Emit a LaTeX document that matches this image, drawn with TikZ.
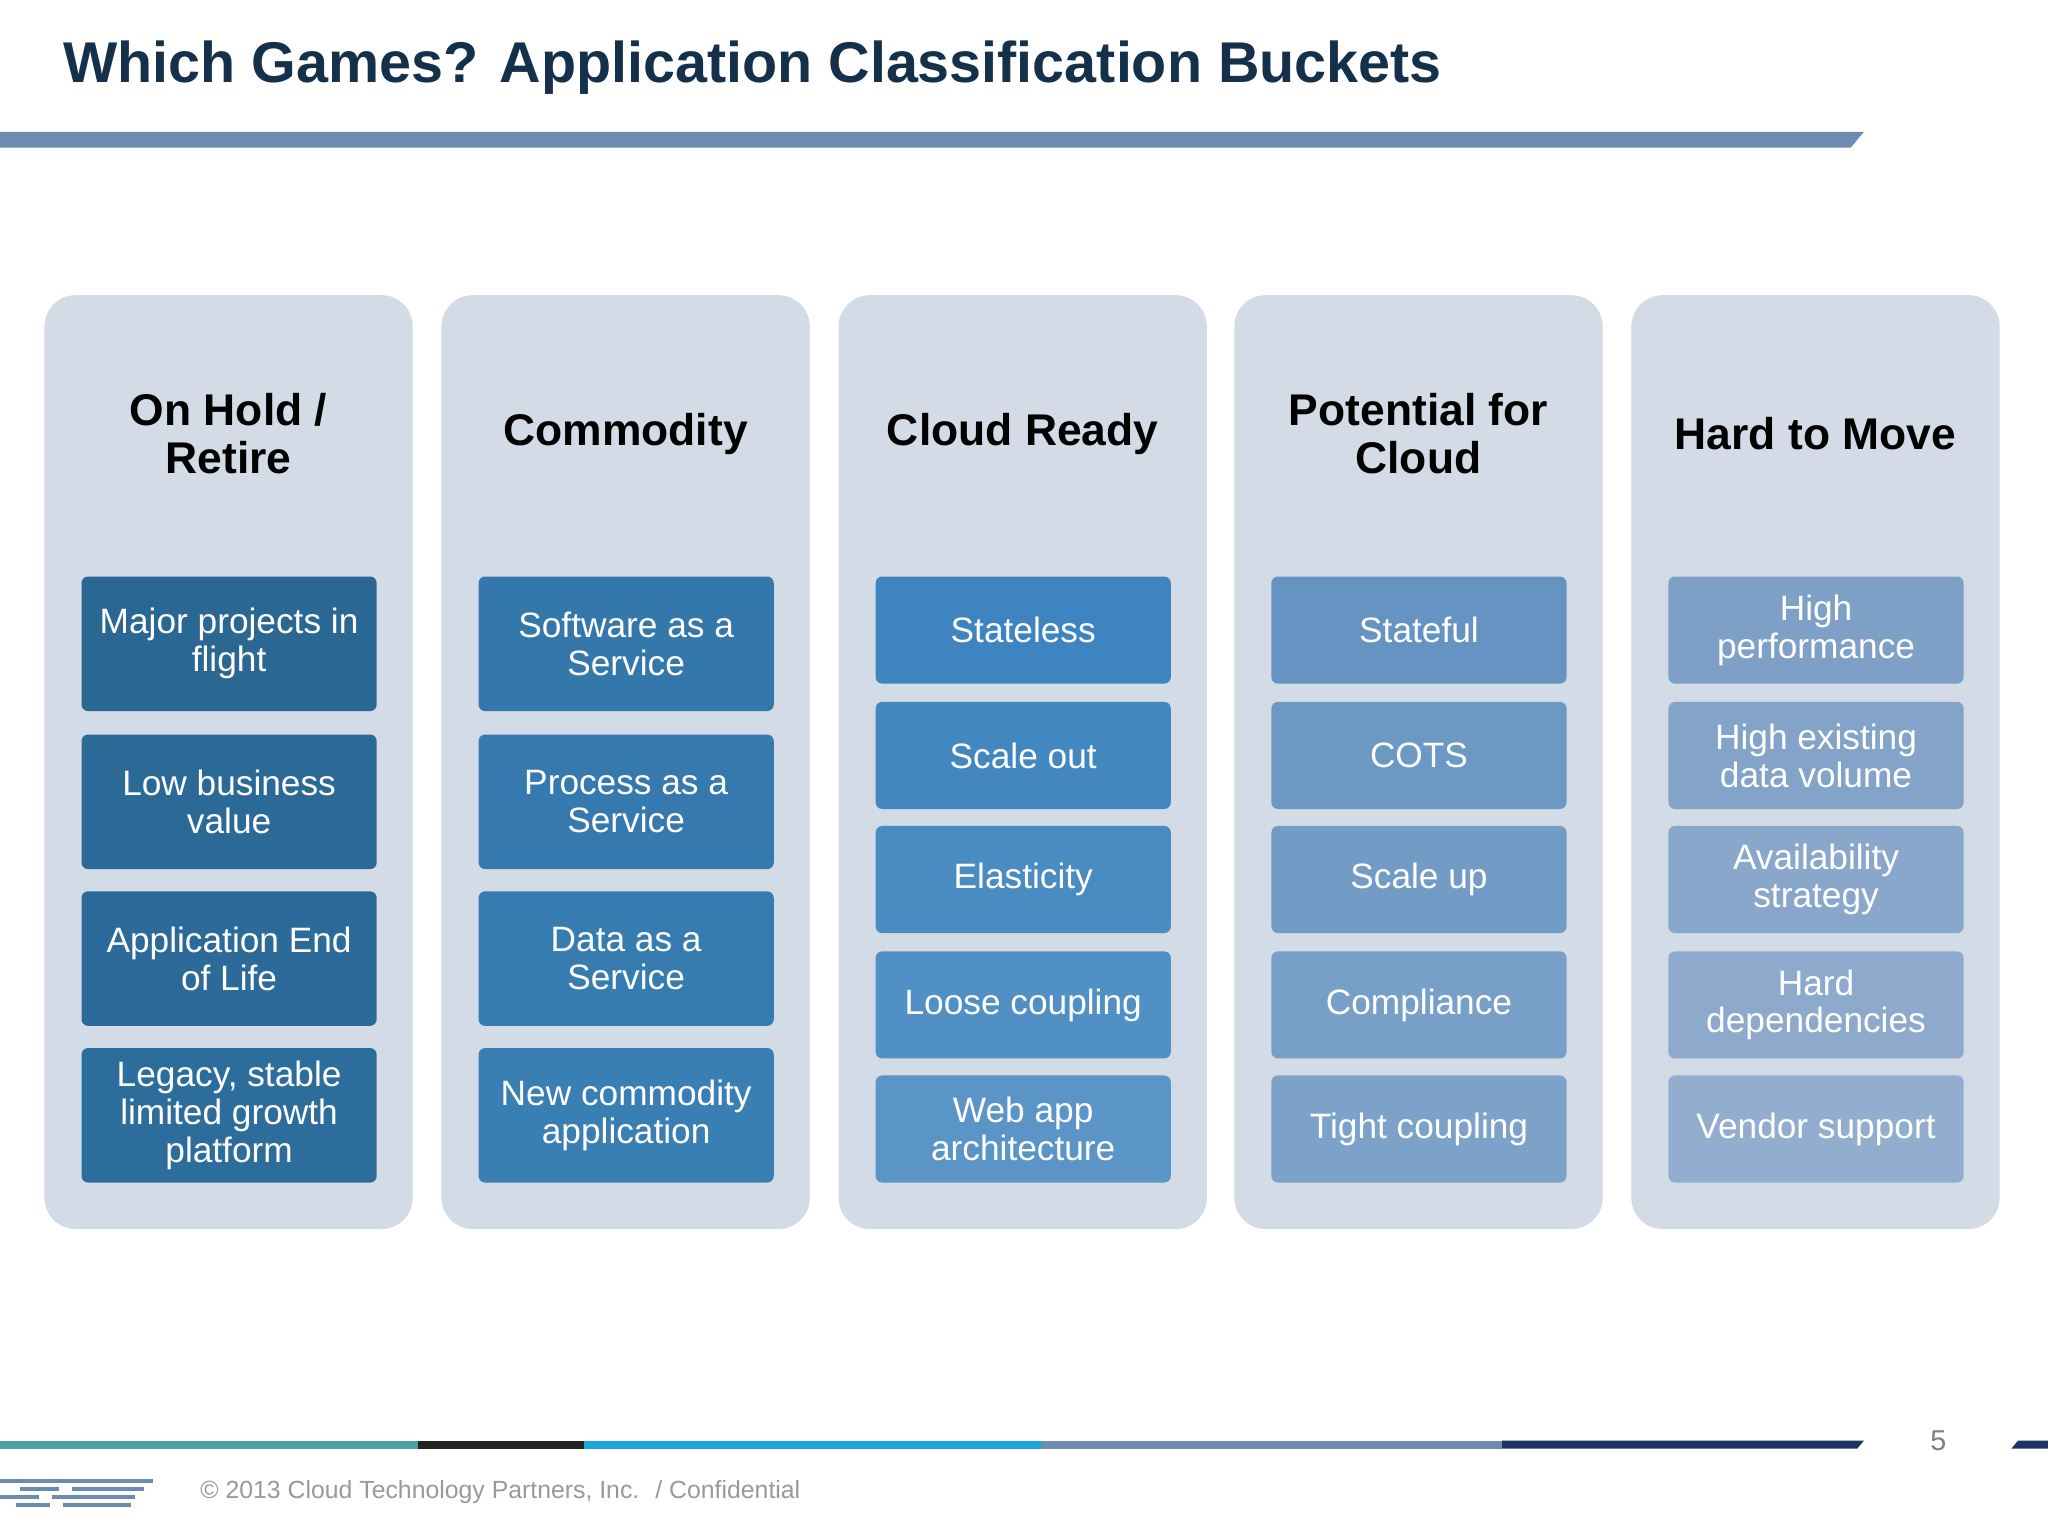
\documentclass[tikz,border=0pt]{standalone}
\usepackage{fontspec}
\setmainfont{Liberation Sans}
\begin{document}
\begin{tikzpicture}[x=0.5pt,y=-0.5pt,
  panel/.style={fill=panelc,rounded corners=12pt,draw=none},
  hdr/.style={font=\bfseries\fontsize{17}{18}\selectfont,align=center,text=black},
  bx/.style={rounded corners=2.5pt,text=white,align=center,font=\fontsize{13.5}{14.5}\selectfont,inner sep=0pt},
  ]
\definecolor{panelc}{HTML}{D3DBE6}
\definecolor{titlec}{HTML}{14304A}
\definecolor{barc}{HTML}{6B8CAE}
\useasboundingbox (0,0) rectangle (1568,1176);
\fill[white] (0,0) rectangle (1568,1176);
\node[anchor=west,text=titlec,font=\bfseries\fontsize{22}{24}\selectfont,inner sep=0pt] (title) at (48,52) {Which Games? Application Classification Buckets};
\fill[barc] (0,101) -- (1427,101) -- (1417,113) -- (0,113) -- cycle;
% panels and headers
\foreach \x/\n/\t in {34/p1/{On Hold /\\Retire},338/p2/{Commodity},642/p3/{Cloud Ready},945/p4/{Potential for\\Cloud},1249/p5/{Hard to Move}}{
  \fill[panelc,rounded corners=12pt] (\x,226) rectangle ++(282,715);
  \node[hdr] (\n) at (\x+141,332) {\t};
}
% col1 and col2 boxes (4 rows)
\foreach \y/\c/\t/\n in {441/2A6893/{Major projects in\\flight}/a1,562/2B6996/{Low business\\value}/a2,682/2C6B99/{Application End\\of Life}/a3,802/2D6D9C/{Legacy, stable\\limited growth\\platform}/a4}{
  \definecolor{tmp}{HTML}{\c}
  \node[bx,fill=tmp,minimum width=113pt,minimum height=51.5pt,anchor=north west] (\n) at (62,\y) {\t};
}
\foreach \y/\c/\t/\n in {441/3477AB/{Software as a\\Service}/b1,562/3579AE/{Process as a\\Service}/b2,682/377CB1/{Data as a\\Service}/b3,802/397FB4/{New commodity\\application}/b4}{
  \definecolor{tmp}{HTML}{\c}
  \node[bx,fill=tmp,minimum width=113pt,minimum height=51.5pt,anchor=north west] (\n) at (366,\y) {\t};
}
% col3-5 (5 rows)
\foreach \y/\c/\t/\n in {441/3E84C0/{Stateless}/c1,537/4387C0/{Scale out}/c2,632/4A8BC2/{Elasticity}/c3,728/5090C5/{Loose coupling}/c4,823/5B95C8/{Web app\\architecture}/c5}{
  \definecolor{tmp}{HTML}{\c}
  \node[bx,fill=tmp,minimum width=113pt,minimum height=41pt,anchor=north west] (\n) at (670,\y) {\t};
}
\foreach \y/\c/\t/\n in {441/6594C2/{Stateful}/d1,537/6C98C4/{COTS}/d2,632/729CC6/{Scale up}/d3,728/779FC7/{Compliance}/d4,823/7CA2C9/{Tight coupling}/d5}{
  \definecolor{tmp}{HTML}{\c}
  \node[bx,fill=tmp,minimum width=113pt,minimum height=41pt,anchor=north west] (\n) at (973,\y) {\t};
}
\foreach \y/\c/\t/\n in {441/7E9FC6/{High\\performance}/e1,537/83A3C8/{High existing\\data volume}/e2,632/88A7CA/{Availability\\strategy}/e3,728/8DAACC/{Hard\\dependencies}/e4,823/92ADCD/{Vendor support}/e5}{
  \definecolor{tmp}{HTML}{\c}
  \node[bx,fill=tmp,minimum width=113pt,minimum height=41pt,anchor=north west] (\n) at (1277,\y) {\t};
}
% footer
\fill[fill={rgb,255:red,74;green,161;blue,168}] (0,1103) rectangle (322,1109);
\fill[fill={rgb,255:red,34;green,34;blue,34}] (320,1103) rectangle (447,1109);
\fill[fill={rgb,255:red,26;green,166;blue,216}] (447,1103) rectangle (797,1109);
\fill[barc] (797,1103) rectangle (1150,1109);
\fill[fill={rgb,255:red,28;green,53;blue,96}] (1150,1103) -- (1427,1103) -- (1422,1109) -- (1150,1109) -- cycle;
\fill[fill={rgb,255:red,28;green,53;blue,96}] (1545,1103) -- (1568,1103) -- (1568,1109) -- (1540,1109) -- cycle;
\node[text=gray,font=\fontsize{11}{12}\selectfont] (pg) at (1484,1103) {5};
\node[anchor=west,text=gray!80,font=\fontsize{9.5}{11}\selectfont,inner sep=0pt] (copy) at (153,1142) {\textcopyright\ 2013 Cloud Technology Partners, Inc.~ / Confidential};
\begin{scope}[line width=1.5pt,draw=barc]
\draw (0,1134) -- (117,1134);
\draw (15,1140) -- (45,1140) (55,1140) -- (110,1140);
\draw (0,1146) -- (30,1146) (40,1146) -- (103,1146);
\draw (12,1152) -- (38,1152) (48,1152) -- (100,1152);
\end{scope}
\end{tikzpicture}
\end{document}
